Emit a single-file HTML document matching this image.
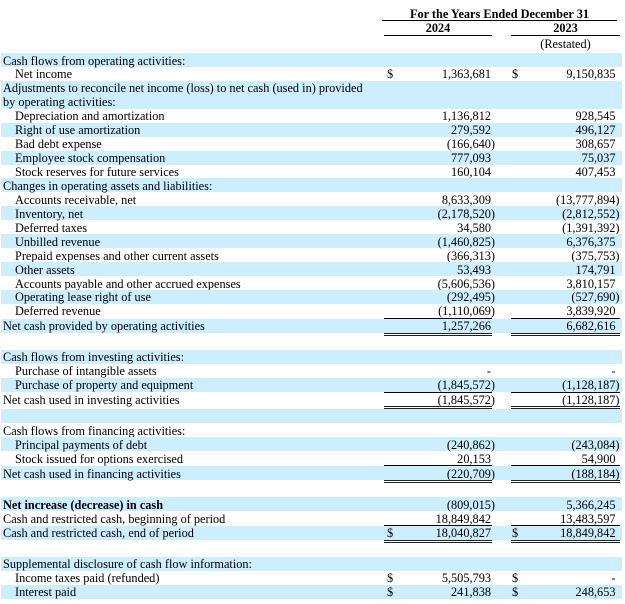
<!DOCTYPE html>
<html>
<head>
<meta charset="utf-8">
<style>
html,body{margin:0;padding:0;background:#fff;}
body{width:625px;height:604px;position:relative;overflow:hidden;font-family:"Liberation Serif","Times New Roman",serif;font-size:12.3px;color:#000;}
.h{position:absolute;white-space:nowrap;text-align:center;line-height:14px;}
.hl{position:absolute;height:1px;background:#000;}
#t{position:absolute;left:1px;top:53px;width:621px;}
.row{position:relative;height:13.95px;line-height:13.95px;white-space:nowrap;}
.row2{height:27.9px;}
.b{background:#cceeff;}
.row span{top:1.5px;}
.l0{position:absolute;left:2px;}
.l1{position:absolute;left:14px;}
.d1{position:absolute;left:386px;}
.d2{position:absolute;left:511px;}
.a1{position:absolute;right:127px;}
.a2{position:absolute;right:2.5px;}
.p{padding-right:4px;}
.bold{font-weight:bold;}
.ul{position:relative;height:1px;}
.ul i{position:absolute;top:0;height:1px;background:#000;}
.dl{position:relative;height:3px;}
.dl i{position:absolute;top:0;height:1px;border-top:1px solid #222;border-bottom:1px solid #222;}
i.s1{left:383px;width:108px;}
i.s2{left:510px;width:109px;}
</style>
</head>
<body>
<div class="h bold" style="left:382px;width:235px;top:7px;">For the Years Ended December 31</div>
<div class="hl" style="left:382px;width:235px;top:20px;"></div>
<div class="h bold" style="left:384px;width:108px;top:21px;">2024</div>
<div class="h bold" style="left:511px;width:109px;top:21px;">2023</div>
<div class="hl" style="left:384px;width:108px;top:35px;"></div>
<div class="hl" style="left:511px;width:109px;top:35px;"></div>
<div class="h" style="left:511px;width:109px;top:37px;">(Restated)</div>

<div id="t">
<div class="row b"><span class="l0">Cash flows from operating activities:</span></div>
<div class="row"><span class="l1">Net income</span><span class="d1">$</span><span class="a1 p">1,363,681</span><span class="d2">$</span><span class="a2 p">9,150,835</span></div>
<div class="row row2 b"><span class="l0">Adjustments to reconcile net income (loss) to net cash (used in) provided<br>by operating activities:</span></div>
<div class="row"><span class="l1">Depreciation and amortization</span><span class="a1 p">1,136,812</span><span class="a2 p">928,545</span></div>
<div class="row b"><span class="l1">Right of use amortization</span><span class="a1 p">279,592</span><span class="a2 p">496,127</span></div>
<div class="row"><span class="l1">Bad debt expense</span><span class="a1">(166,640)</span><span class="a2 p">308,657</span></div>
<div class="row b"><span class="l1">Employee stock compensation</span><span class="a1 p">777,093</span><span class="a2 p">75,037</span></div>
<div class="row"><span class="l1">Stock reserves for future services</span><span class="a1 p">160,104</span><span class="a2 p">407,453</span></div>
<div class="row b"><span class="l0">Changes in operating assets and liabilities:</span></div>
<div class="row"><span class="l1">Accounts receivable, net</span><span class="a1 p">8,633,309</span><span class="a2">(13,777,894)</span></div>
<div class="row b"><span class="l1">Inventory, net</span><span class="a1">(2,178,520)</span><span class="a2">(2,812,552)</span></div>
<div class="row"><span class="l1">Deferred taxes</span><span class="a1 p">34,580</span><span class="a2">(1,391,392)</span></div>
<div class="row b"><span class="l1">Unbilled revenue</span><span class="a1">(1,460,825)</span><span class="a2 p">6,376,375</span></div>
<div class="row"><span class="l1">Prepaid expenses and other current assets</span><span class="a1">(366,313)</span><span class="a2">(375,753)</span></div>
<div class="row b"><span class="l1">Other assets</span><span class="a1 p">53,493</span><span class="a2 p">174,791</span></div>
<div class="row"><span class="l1">Accounts payable and other accrued expenses</span><span class="a1">(5,606,536)</span><span class="a2 p">3,810,157</span></div>
<div class="row b"><span class="l1">Operating lease right of use</span><span class="a1">(292,495)</span><span class="a2">(527,690)</span></div>
<div class="row"><span class="l1">Deferred revenue</span><span class="a1">(1,110,069)</span><span class="a2 p">3,839,920</span></div>
<div class="ul"><i class="s1"></i><i class="s2"></i></div>
<div class="row b"><span class="l0">Net cash provided by operating activities</span><span class="a1 p">1,257,266</span><span class="a2 p">6,682,616</span></div>
<div class="dl"><i class="s1"></i><i class="s2"></i></div>
<div class="row"></div>
<div class="row b"><span class="l0">Cash flows from investing activities:</span></div>
<div class="row"><span class="l1">Purchase of intangible assets</span><span class="a1 p">-</span><span class="a2 p">-</span></div>
<div class="row b"><span class="l1">Purchase of property and equipment</span><span class="a1">(1,845,572)</span><span class="a2">(1,128,187)</span></div>
<div class="ul"><i class="s1"></i><i class="s2"></i></div>
<div class="row"><span class="l0">Net cash used in investing activities</span><span class="a1">(1,845,572)</span><span class="a2">(1,128,187)</span></div>
<div class="dl"><i class="s1"></i><i class="s2"></i></div>
<div class="row b"></div>
<div class="row"><span class="l0">Cash flows from financing activities:</span></div>
<div class="row b"><span class="l1">Principal payments of debt</span><span class="a1">(240,862)</span><span class="a2">(243,084)</span></div>
<div class="row"><span class="l1">Stock issued for options exercised</span><span class="a1 p">20,153</span><span class="a2 p">54,900</span></div>
<div class="ul"><i class="s1"></i><i class="s2"></i></div>
<div class="row b"><span class="l0">Net cash used in financing activities</span><span class="a1">(220,709)</span><span class="a2">(188,184)</span></div>
<div class="dl"><i class="s1"></i><i class="s2"></i></div>
<div class="row"></div>
<div class="row b"><span class="l0 bold">Net increase (decrease) in cash</span><span class="a1">(809,015)</span><span class="a2 p">5,366,245</span></div>
<div class="row"><span class="l0">Cash and restricted cash, beginning of period</span><span class="a1 p">18,849,842</span><span class="a2 p">13,483,597</span></div>
<div class="ul"><i class="s1"></i><i class="s2"></i></div>
<div class="row b"><span class="l0">Cash and restricted cash, end of period</span><span class="d1">$</span><span class="a1 p">18,040,827</span><span class="d2">$</span><span class="a2 p">18,849,842</span></div>
<div class="dl"><i class="s1"></i><i class="s2"></i></div>
<div class="row"></div>
<div class="row b"><span class="l0">Supplemental disclosure of cash flow information:</span></div>
<div class="row"><span class="l1">Income taxes paid (refunded)</span><span class="d1">$</span><span class="a1 p">5,505,793</span><span class="d2">$</span><span class="a2 p">-</span></div>
<div class="row b"><span class="l1">Interest paid</span><span class="d1">$</span><span class="a1 p">241,838</span><span class="d2">$</span><span class="a2 p">248,653</span></div>
</div>
</body>
</html>
